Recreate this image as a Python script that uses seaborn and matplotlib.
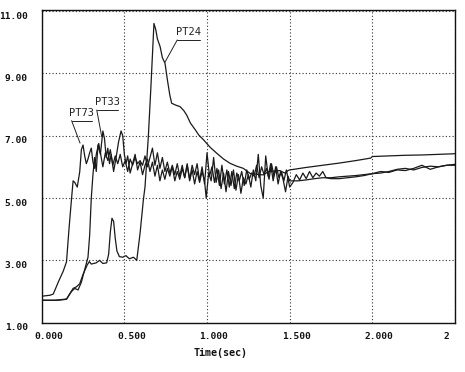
import numpy as np
import pandas as pd
import matplotlib
matplotlib.use("Agg")
import matplotlib.pyplot as plt
import matplotlib.transforms as mtransforms
import seaborn as sns

# =======================
# Data
# =======================
pt73_t = [0.00, 0.05, 0.07, 0.10, 0.13, 0.15, 0.165, 0.18, 0.19, 0.20, 0.215, 0.23, 0.24, 0.25,
          0.26, 0.27, 0.28, 0.29, 0.30, 0.31, 0.32, 0.33, 0.345, 0.36, 0.37, 0.385, 0.40, 0.415,
          0.43, 0.445, 0.46, 0.475, 0.49, 0.505, 0.52, 0.535, 0.55, 0.565, 0.58, 0.595, 0.61,
          0.625, 0.64, 0.655, 0.67, 0.685, 0.70, 0.715, 0.73, 0.745, 0.76, 0.775, 0.79, 0.805,
          0.82, 0.835, 0.85, 0.865, 0.88, 0.895, 0.91, 0.925, 0.94, 0.955, 0.97, 0.985, 1.00,
          1.015, 1.03, 1.045, 1.06, 1.075, 1.09, 1.105, 1.12, 1.135, 1.15, 1.165, 1.18, 1.195,
          1.21, 1.225, 1.24, 1.255, 1.27, 1.285, 1.30, 1.315, 1.33, 1.345, 1.36, 1.375, 1.39,
          1.405, 1.42, 1.435, 1.45, 1.465, 1.48, 1.50, 1.52, 1.54, 1.56, 1.58, 1.60, 1.62, 1.64,
          1.66, 1.68, 1.70, 1.72, 1.75, 1.80, 1.85, 1.90, 1.95, 2.00, 2.05, 2.10, 2.15, 2.20,
          2.25, 2.30, 2.35, 2.40, 2.45, 2.50]
pt73_p = [1.85, 1.88, 1.92, 2.30, 2.65, 2.95, 4.00, 4.95, 5.55, 5.50, 5.35, 5.84, 6.55, 6.70,
          6.35, 6.10, 6.25, 6.45, 6.60, 6.15, 5.95, 6.40, 6.75, 6.30, 6.00, 6.45, 6.20, 6.55,
          6.05, 6.35, 6.10, 6.40, 6.00, 6.20, 5.85, 6.25, 6.05, 6.30, 6.10, 6.20, 6.05,
          6.35, 6.00, 6.30, 6.60, 6.05, 6.45, 5.95, 6.30, 5.85, 6.15, 5.80, 6.05, 5.75,
          6.10, 5.70, 6.05, 5.65, 6.10, 5.60, 6.05, 5.75, 6.10, 5.55, 6.00, 5.45, 6.45,
          5.70, 6.00, 5.50, 5.95, 5.40, 6.05, 5.45, 5.90, 5.35, 5.85, 5.30, 5.80, 5.55,
          5.85, 5.40, 5.90, 5.60, 5.80, 5.70, 6.05, 5.65, 6.00, 5.75, 5.95, 5.60, 6.10,
          5.70, 6.00, 5.65, 5.85, 5.55, 5.90, 5.35, 5.50, 5.75, 5.58, 5.80, 5.62, 5.85, 5.65,
          5.80, 5.70, 5.85, 5.65, 5.62, 5.62, 5.65, 5.68, 5.72, 5.78, 5.85, 5.82, 5.90, 5.88,
          5.95, 6.05, 5.92, 6.00, 6.05, 6.08]

pt33_t = [0.00, 0.10, 0.15, 0.18, 0.20, 0.22, 0.24, 0.26, 0.28, 0.29, 0.30, 0.31, 0.32, 0.33,
          0.34, 0.355, 0.37, 0.38, 0.39, 0.40, 0.41, 0.42, 0.435, 0.45, 0.465, 0.48, 0.49, 0.50,
          0.51, 0.52, 0.535, 0.55, 0.565, 0.58, 0.595, 0.61, 0.625, 0.64, 0.655, 0.67, 0.685,
          0.70, 0.715, 0.73, 0.745, 0.76, 0.775, 0.79, 0.805, 0.82, 0.835, 0.85, 0.865, 0.88,
          0.895, 0.91, 0.925, 0.94, 0.955, 0.97, 0.985, 0.995, 1.01, 1.025, 1.04, 1.055, 1.07,
          1.085, 1.10, 1.115, 1.13, 1.145, 1.16, 1.175, 1.19, 1.205, 1.22, 1.235, 1.25, 1.265,
          1.28, 1.295, 1.31, 1.325, 1.34, 1.355, 1.37, 1.385, 1.40, 1.415, 1.43, 1.445, 1.46,
          1.475, 1.49, 1.50, 1.55, 1.60, 1.65, 1.70, 1.75, 1.80, 1.85, 1.90, 1.95, 2.00, 2.05,
          2.10, 2.15, 2.20, 2.25, 2.30, 2.35, 2.40, 2.45, 2.50]
pt33_p = [1.72, 1.72, 1.75, 2.00, 2.10, 2.05, 2.30, 2.70, 3.10, 3.80, 5.00, 5.75, 6.30, 5.85,
          6.70, 6.40, 7.15, 6.90, 6.30, 6.60, 6.10, 6.40, 5.85, 6.30, 6.80, 7.15, 7.00, 6.40,
          6.10, 6.35, 5.80, 6.10, 6.40, 5.90, 6.15, 5.75, 6.05, 6.25, 5.85, 6.15, 5.70,
          6.05, 5.55, 5.90, 5.60, 5.95, 5.70, 6.00, 5.55, 5.85, 5.60, 5.95, 5.65, 6.05,
          5.55, 5.90, 5.45, 5.85, 5.50, 5.85, 5.55, 5.00, 5.80, 5.55, 6.30, 5.50, 5.90,
          5.30, 5.80, 5.20, 5.85, 5.40, 5.90, 5.25, 5.75, 5.15, 5.65, 5.45, 5.75, 5.35,
          5.90, 5.55, 6.40, 5.40, 5.00, 6.35, 5.70, 6.10, 5.55, 6.00, 5.45, 5.85, 5.60,
          5.20, 5.70, 5.55, 5.55, 5.58, 5.62, 5.65, 5.65, 5.68, 5.70, 5.72, 5.75, 5.78, 5.80,
          5.85, 5.92, 5.95, 5.90, 5.98, 6.02, 6.00, 6.05, 6.05]

pt24_t = [0.00, 0.08, 0.15, 0.19, 0.21, 0.23, 0.25, 0.262, 0.275, 0.288, 0.30, 0.33, 0.35, 0.37,
          0.393, 0.405, 0.415, 0.425, 0.435, 0.445, 0.455, 0.47, 0.49, 0.51, 0.53, 0.555, 0.575,
          0.595, 0.615, 0.625, 0.645, 0.66, 0.679, 0.69, 0.70, 0.716, 0.73, 0.746, 0.76, 0.775,
          0.786, 0.81, 0.837, 0.86, 0.877, 0.90, 0.93, 0.95, 0.98, 1.02, 1.06, 1.10, 1.14, 1.18,
          1.22, 1.26, 1.30, 1.34, 1.37, 1.40, 1.44, 1.47, 1.49, 1.50, 1.60, 1.70, 1.80, 1.90,
          1.99, 2.00, 2.10, 2.20, 2.30, 2.40, 2.50]
pt24_p = [1.72, 1.72, 1.76, 2.10, 2.15, 2.25, 2.55, 2.69, 2.85, 2.96, 2.88, 2.92, 3.00, 2.90,
          2.92, 3.20, 3.90, 4.35, 4.25, 3.70, 3.30, 3.12, 3.10, 3.15, 3.05, 3.10, 3.00,
          3.87, 4.94, 5.36, 6.97, 8.50, 10.60, 10.40, 10.10, 9.86, 9.50, 9.32, 8.80, 8.30,
          8.04, 7.98, 7.93, 7.80, 7.66, 7.40, 7.18, 7.02, 6.86, 6.62, 6.43, 6.25, 6.11, 6.02,
          5.95, 5.79, 5.76, 5.74, 5.84, 5.86, 5.88, 5.80, 5.88, 5.90, 5.98, 6.05, 6.12, 6.20,
          6.28, 6.33, 6.35, 6.37, 6.38, 6.40, 6.42]

x_ticks = [0.0, 0.5, 1.0, 1.5, 2.0, 2.5]
x_tick_labels = ["0.000", "0.500", "1.000", "1.500", "2.000", "2"]
y_ticks = [1, 3, 5, 7, 9, 11]
y_tick_labels = ["1.00", "3.00", "5.00", "7.00", "9.00", "11.00"]

# label text pos, underline (x0, x1, y), pointer target
labels = {
    "PT24": dict(text=(0.885, 10.33), line=(0.82, 0.958, 10.07), tip=(0.746, 9.36)),
    "PT33": dict(text=(0.398, 8.08), line=(0.333, 0.463, 7.82), tip=(0.363, 6.97)),
    "PT73": dict(text=(0.242, 7.74), line=(0.181, 0.302, 7.48), tip=(0.232, 6.76)),
}

# =======================
# Plot
# =======================
sns.set_style("white")
plt.rcParams["font.family"] = ["DejaVu Sans Mono", "DejaVu Sans"]

fig = plt.figure(figsize=(4.65, 3.72), dpi=100)
ax = fig.add_axes([41.7 / 465, 1 - 322.7 / 372, 413.3 / 465, 312.7 / 372])

for t, p in [(pt73_t, pt73_p), (pt33_t, pt33_p), (pt24_t, pt24_p)]:
    df = pd.DataFrame({"t": t, "p": p})
    sns.lineplot(data=df, x="t", y="p", ax=ax, color="#1a1a1a", linewidth=0.9,
                 estimator=None, sort=False)

for name, d in labels.items():
    ax.text(d["text"][0], d["text"][1], name, ha="center", va="center",
            fontsize=7.5, color="#222222")
    x0, x1, yl = d["line"]
    ax.plot([x0, x1], [yl, yl], color="#222222", lw=0.7)
    ax.plot([x0, d["tip"][0]], [yl, d["tip"][1]], color="#222222", lw=0.7)

ax.set_xlim(0, 2.5)
ax.set_ylim(1, 11.03)
ax.set_xticks(x_ticks)
ax.set_xticklabels(x_tick_labels)
ax.set_yticks(y_ticks)
ax.set_yticklabels(y_tick_labels)
ax.tick_params(length=0, labelsize=6.8, colors="#111111")
ax.tick_params(axis="x", pad=7)
ax.tick_params(axis="y", pad=10)
for lab in ax.get_xticklabels() + ax.get_yticklabels():
    lab.set_fontweight("bold")

# shift labels like the original print
for i, lab in enumerate(ax.get_xticklabels()):
    dx = 5 / 72 if i < len(x_tick_labels) - 1 else -6 / 72
    lab.set_transform(lab.get_transform() + mtransforms.ScaledTranslation(dx, 0, fig.dpi_scale_trans))
for lab in ax.get_yticklabels():
    lab.set_transform(lab.get_transform() + mtransforms.ScaledTranslation(0, -3 / 72, fig.dpi_scale_trans))

ax.grid(True, color="#333333", linestyle=(0, (1, 2)), linewidth=0.8)
ax.set_xlabel("")
ax.set_ylabel("")
for s in ax.spines.values():
    s.set_color("#111111")
    s.set_linewidth(1.0)

fig.text(220 / 465, 1 - 353 / 372, "Time(sec)", ha="center", va="center",
         fontsize=7.2, fontweight="bold", color="#111111")

fig.savefig("out.png", dpi=100, facecolor="white")
